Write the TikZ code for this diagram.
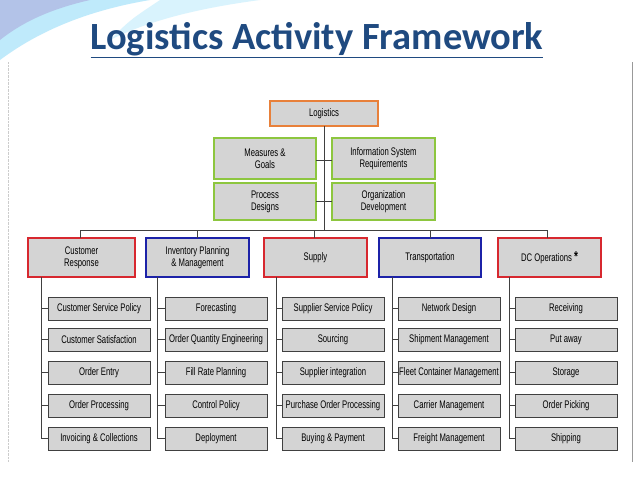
\documentclass[tikz,border=0pt]{standalone}
\usepackage{fontspec}
\setmainfont{Liberation Sans}
\newfontfamily\nar{Liberation Sans}[FakeStretch=0.7]
\newfontfamily\ttl{Carlito}
\definecolor{ttlblue}{HTML}{1F4A80}
\definecolor{gfr}{HTML}{8DC63F}
\definecolor{ofr}{HTML}{E8803A}
\definecolor{rfr}{HTML}{D7282F}
\definecolor{bfr}{HTML}{1C22A8}
\definecolor{boxg}{HTML}{D4D4D4}
\begin{document}
\begin{tikzpicture}[x=1pt,y=-1pt,
  lbl/.style={font=\nar\fontsize{11}{12}\selectfont,align=center},
  top/.style={fill=boxg,draw=#1,line width=2.2pt},
  kid/.style={fill=boxg,draw=black!75,line width=0.8pt},
  ln/.style={draw=black!75,line width=0.9pt}]
\useasboundingbox (0,0) rectangle (638,479);
\fill[white] (0,0) rectangle (638,479);
% swoosh
\fill[cyan!25] (0,0) -- (150,0) .. controls (90,10) and (40,30) .. (0,60) -- cycle;
\fill[cyan!45!blue!30] (0,0) -- (90,0) .. controls (55,8) and (25,20) .. (0,40) -- cycle;
\fill[cyan!15] (160,0) -- (260,0) .. controls (200,8) and (150,20) .. (110,40) .. controls (130,20) .. (160,0);
\draw[black!40,line width=0.8pt] (632,62) -- (632,462);
\draw[black!20,densely dotted] (8,62) -- (8,462);
% title
\node[font=\ttl\bfseries\fontsize{38.5}{44}\selectfont,text=ttlblue] (title) at (317,40) {\underline{Logistics Activity Framework}};
% top
\path[top=ofr] (270,101) rectangle (378,126);
\node[lbl] (log) at (324,113.5) {Logistics};
\path[top=gfr] (214,138) rectangle (316,179);
\node[lbl] (mg) at (265,158.5) {Measures \&\\Goals};
\path[top=gfr] (332,138) rectangle (435,179);
\node[lbl] (isr) at (383.5,158.5) {Information System\\Requirements};
\path[top=gfr] (214,183) rectangle (316,220);
\node[lbl] (pd) at (265,201.5) {Process\\Designs};
\path[top=gfr] (332,183) rectangle (435,220);
\node[lbl] (od) at (383.5,201.5) {Organization\\Development};
\coordinate (t1) at (324,126);
\coordinate (t2) at (324,230);
\draw[ln] (t1) -- (t2);
\draw[ln] (316,160) -- (332,160);
\draw[ln] (316,201) -- (332,201);
\draw[ln] (80,230) -- (547,230);
% level 2
\path[top=rfr] (28,238) rectangle (135,277);
\node[lbl] (cr) at (81.5,257.5) {Customer\\Response};
\path[top=bfr] (146,238) rectangle (249,277);
\node[lbl] (ip) at (197.5,257.5) {Inventory Planning\\\& Management};
\path[top=rfr] (264,238) rectangle (367,277);
\node[lbl] (su) at (315.5,257.5) {Supply};
\path[top=bfr] (379,238) rectangle (481,277);
\node[lbl] (tr) at (430,257.5) {Transportation};
\path[top=rfr] (498,238) rectangle (601,277);
\node[lbl] (dc) at (549.5,257.5) {DC Operations \textbf{\Large *}};
\foreach \xx in {80,197,314,430,547}{\draw[ln] (\xx,230) -- (\xx,238);}
% children
\def\rows{{297,328,361,394,427}}
\foreach \cx/\vx/\items [count=\c] in {
  48/41/{Customer Service Policy,Customer Satisfaction,Order Entry,Order Processing,Invoicing \& Collections},
  165/157/{Forecasting,Order Quantity Engineering,Fill Rate Planning,Control Policy,Deployment},
  282/276/{Supplier Service Policy,Sourcing,Supplier integration,Purchase Order Processing,Buying \& Payment},
  398/392/{Network Design,Shipment Management,Fleet Container Management,Carrier Management,Freight Management},
  515/509/{Receiving,Put away,Storage,Order Picking,Shipping}}{
  \draw[ln] (\vx,277) -- (\vx,438.5);
  \foreach \it [count=\r] in \items {
    \pgfmathsetmacro\ty{\rows[\r-1]}
    \path[kid] (\cx,\ty) rectangle (\cx+102,\ty+23);
    \node[lbl,inner sep=0pt] (k\c\r) at (\cx+51,\ty+11.5) {\it};
    \draw[ln] (\vx,\ty+11.5) -- (\cx,\ty+11.5);
  }
}
\end{tikzpicture}
\end{document}
